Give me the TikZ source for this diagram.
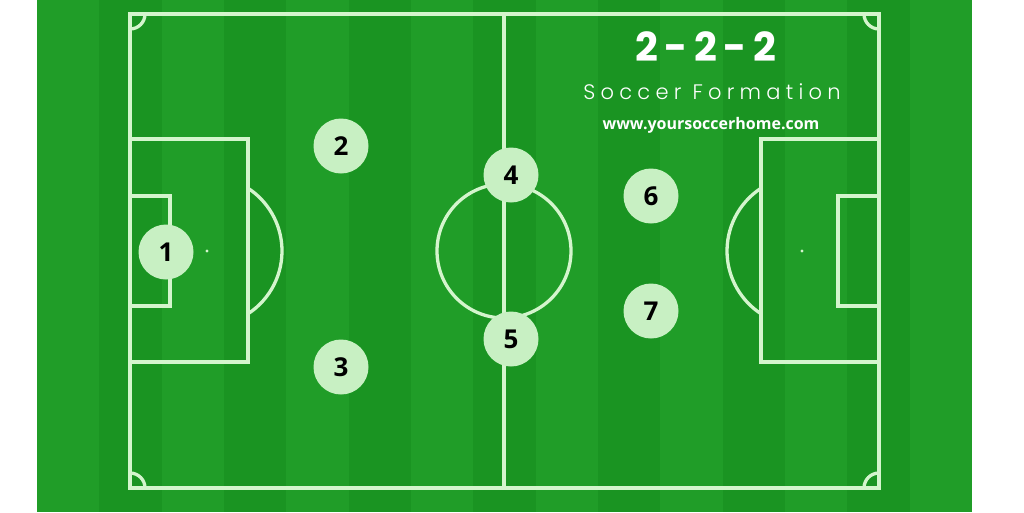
\documentclass[tikz,border=0pt]{standalone}
\usepackage{fontspec}
\setmainfont{Open Sans}
\newfontfamily\popbold{Poppins}[UprightFont=* Bold,LetterSpace=16]
\newfontfamily\poplight{Poppins}[UprightFont=* Light,LetterSpace=25]
\usepackage{tikz}
\usetikzlibrary{calc}
\definecolor{grass}{RGB}{26,148,34}
\definecolor{grasslight}{RGB}{32,157,40}
\definecolor{chalk}{RGB}{212,245,205}
\definecolor{disc}{RGB}{200,240,195}

\begin{document}
\begin{tikzpicture}[x=1pt,y=-1pt,
      line/.style={draw=chalk,line width=3.3pt},
      player/.style={circle,fill=disc,minimum size=55pt,inner sep=0pt,
        font=\bfseries\fontsize{26}{26}\selectfont,text=black},
      caption/.style={text=white,inner sep=0pt}]
      \useasboundingbox (0,0) rectangle (1024,512);
      \fill[white] (0,0) rectangle (1024,512);
      \fill[grass] (37,0) rectangle (972,512);
      \foreach \i in {0,2,...,14}
        \fill[grasslight] ({37+\i*62.33},0) rectangle ++(62.33,512);

      \coordinate (tl) at (130,14);
      \coordinate (tr) at (879,14);
      \coordinate (bl) at (130,488);
      \coordinate (br) at (879,488);
      \coordinate (mid) at (504,251);
      \coordinate (spotL) at (207,251);
      \coordinate (spotR) at (802,251);

      \draw[line] (tl) rectangle (br);
      \draw[line] (504,14) -- (504,488);
      \draw[line] (mid) circle (67pt);

      \draw[line] (130,139) rectangle (248,362);
      \draw[line] (130,196) rectangle (170,306);
      \draw[line] (879,139) rectangle (761,362);
      \draw[line] (879,196) rectangle (838,306);
      \draw[line] ([shift={(-56.9:75pt)}]spotL) arc[start angle=-56.9,end angle=56.9,radius=75pt];
      \draw[line] ([shift={(123.1:75pt)}]spotR) arc[start angle=123.1,end angle=236.9,radius=75pt];
      \fill[chalk] (spotL) circle (1.6pt);
      \fill[chalk] (spotR) circle (1.6pt);

      \draw[line] ([shift={(270:15pt)}]tl) arc[start angle=270,end angle=360,radius=15pt];
      \draw[line] ([shift={(180:15pt)}]tr) arc[start angle=180,end angle=270,radius=15pt];
      \draw[line] ([shift={(0:15pt)}]bl) arc[start angle=0,end angle=90,radius=15pt];
      \draw[line] ([shift={(90:15pt)}]br) arc[start angle=90,end angle=180,radius=15pt];

      \node[player] (p1) at (166,252) {1};
      \node[player] (p2) at (341,146) {2};
      \node[player] (p3) at (341,367) {3};
      \node[player] (p4) at (511,175) {4};
      \node[player] (p5) at (511,339) {5};
      \node[player] (p6) at (651,196) {6};
      \node[player] (p7) at (651,311) {7};

      \node[caption,font=\popbold\fontsize{40}{40}\selectfont] (title) at (706,47) {2-2-2};
      \node[caption,font=\poplight\fontsize{21}{21}\selectfont] (subtitle) at (712,92) {Soccer Formation};
      \node[caption,font=\bfseries\fontsize{16}{16}\selectfont] (site) at (711,125) {www.yoursoccerhome.com};
   \end{tikzpicture}
\end{document}
